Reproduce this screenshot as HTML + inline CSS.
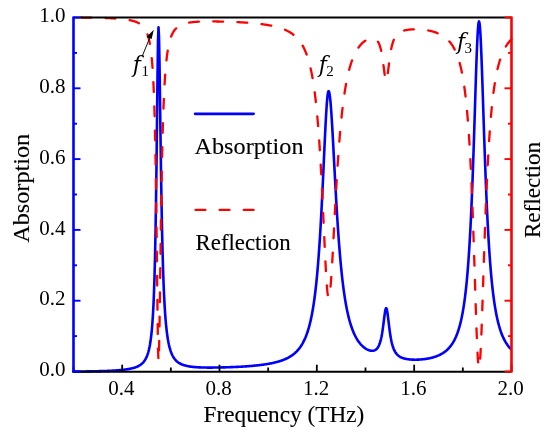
<!DOCTYPE html><html><head><meta charset="utf-8"><title>Absorption and Reflection</title><style>html,body{margin:0;padding:0;background:#fff;overflow:hidden}svg{display:block}</style></head><body><svg width="550" height="438" viewBox="0 0 550 438">
<rect width="550" height="438" fill="#fff"/>
<path d="M73.50,371.50 L74.00,371.50 L74.50,371.50 L75.00,371.50 L75.50,371.50 L76.00,371.50 L76.50,371.50 L77.00,371.50 L77.50,371.50 L78.00,371.50 L78.50,371.50 L79.00,371.50 L79.50,371.50 L80.00,371.50 L80.50,371.50 L81.00,371.50 L81.50,371.50 L82.00,371.49 L82.50,371.48 L83.00,371.47 L83.50,371.47 L84.00,371.46 L84.50,371.45 L85.00,371.44 L85.50,371.44 L86.00,371.43 L86.50,371.42 L87.00,371.41 L87.50,371.40 L88.00,371.40 L88.50,371.39 L89.00,371.38 L89.50,371.37 L90.00,371.36 L90.50,371.35 L91.00,371.34 L91.50,371.33 L92.00,371.32 L92.50,371.31 L93.00,371.30 L93.50,371.29 L94.00,371.28 L94.50,371.27 L95.00,371.26 L95.50,371.25 L96.00,371.24 L96.50,371.23 L97.00,371.22 L97.50,371.21 L98.00,371.19 L98.50,371.18 L99.00,371.17 L99.50,371.16 L100.00,371.14 L100.50,371.13 L101.00,371.12 L101.50,371.10 L102.00,371.09 L102.50,371.07 L103.00,371.06 L103.50,371.04 L104.00,371.03 L104.50,371.01 L105.00,371.00 L105.50,370.98 L106.00,370.96 L106.50,370.95 L107.00,370.93 L107.50,370.91 L108.00,370.89 L108.50,370.87 L109.00,370.85 L109.50,370.83 L110.00,370.81 L110.50,370.78 L111.00,370.76 L111.50,370.73 L112.00,370.70 L112.50,370.67 L113.00,370.64 L113.50,370.61 L114.00,370.57 L114.50,370.54 L115.00,370.51 L115.50,370.47 L116.00,370.44 L116.50,370.40 L117.00,370.36 L117.50,370.32 L118.00,370.28 L118.50,370.24 L119.00,370.20 L119.50,370.16 L120.00,370.11 L120.50,370.07 L121.00,370.02 L121.50,369.97 L122.00,369.92 L122.50,369.87 L123.00,369.81 L123.50,369.76 L124.00,369.70 L124.50,369.64 L125.00,369.58 L125.50,369.51 L126.00,369.44 L126.50,369.37 L127.00,369.30 L127.50,369.22 L128.00,369.14 L128.50,369.06 L129.00,368.97 L129.50,368.88 L130.00,368.79 L130.50,368.68 L131.00,368.57 L131.50,368.46 L132.00,368.34 L132.50,368.22 L133.00,368.08 L133.50,367.94 L134.00,367.80 L134.50,367.64 L135.00,367.48 L135.50,367.30 L136.00,367.12 L136.50,366.92 L137.00,366.71 L137.50,366.49 L138.00,366.25 L138.50,366.00 L139.00,365.73 L139.50,365.43 L140.00,365.12 L140.50,364.78 L141.00,364.41 L141.50,364.01 L142.00,363.57 L142.50,363.10 L143.00,362.58 L143.50,362.02 L144.00,361.39 L144.50,360.71 L145.00,359.95 L145.50,359.11 L146.00,358.17 L146.50,357.12 L147.00,355.94 L147.50,354.60 L148.00,353.09 L148.50,351.36 L149.00,349.38 L149.50,347.09 L150.00,344.43 L150.50,341.31 L151.00,337.64 L151.50,333.26 L152.00,328.01 L152.50,321.65 L153.00,313.86 L153.50,304.22 L154.00,292.19 L154.50,277.02 L155.00,257.78 L155.50,233.32 L156.00,202.50 L156.50,164.67 L157.00,121.00 L157.50,76.44 L158.00,41.14 L158.50,27.41 L159.00,36.98 L159.50,62.74 L160.00,97.85 L160.50,135.39 L161.00,170.75 L161.50,201.75 L162.00,227.90 L162.50,249.52 L163.00,267.25 L163.50,281.77 L164.00,293.69 L164.50,303.54 L165.00,311.72 L165.50,318.56 L166.00,324.32 L166.50,329.20 L167.00,333.37 L167.50,336.95 L168.00,340.05 L168.50,342.74 L169.00,345.09 L169.50,347.16 L170.00,348.98 L170.50,350.60 L171.00,352.03 L171.50,353.31 L172.00,354.47 L172.50,355.50 L173.00,356.43 L173.50,357.28 L174.00,358.05 L174.50,358.74 L175.00,359.38 L175.50,359.96 L176.00,360.49 L176.50,360.98 L177.00,361.44 L177.50,361.85 L178.00,362.23 L178.50,362.59 L179.00,362.92 L179.50,363.22 L180.00,363.51 L180.50,363.77 L181.00,364.01 L181.50,364.24 L182.00,364.46 L182.50,364.66 L183.00,364.84 L183.50,365.02 L184.00,365.18 L184.50,365.33 L185.00,365.48 L185.50,365.61 L186.00,365.74 L186.50,365.86 L187.00,365.97 L187.50,366.08 L188.00,366.18 L188.50,366.27 L189.00,366.36 L189.50,366.44 L190.00,366.52 L190.50,366.59 L191.00,366.66 L191.50,366.73 L192.00,366.79 L192.50,366.85 L193.00,366.90 L193.50,366.96 L194.00,367.00 L194.50,367.05 L195.00,367.09 L195.50,367.13 L196.00,367.17 L196.50,367.21 L197.00,367.24 L197.50,367.27 L198.00,367.30 L198.50,367.33 L199.00,367.36 L199.50,367.38 L200.00,367.40 L200.50,367.42 L201.00,367.44 L201.50,367.46 L202.00,367.48 L202.50,367.49 L203.00,367.51 L203.50,367.52 L204.00,367.53 L204.50,367.54 L205.00,367.55 L205.50,367.56 L206.00,367.56 L206.50,367.57 L207.00,367.58 L207.50,367.58 L208.00,367.58 L208.50,367.59 L209.00,367.59 L209.50,367.59 L210.00,367.59 L210.50,367.59 L211.00,367.59 L211.50,367.58 L212.00,367.58 L212.50,367.58 L213.00,367.57 L213.50,367.57 L214.00,367.56 L214.50,367.56 L215.00,367.55 L215.50,367.54 L216.00,367.53 L216.50,367.52 L217.00,367.51 L217.50,367.50 L218.00,367.49 L218.50,367.48 L219.00,367.47 L219.50,367.46 L220.00,367.45 L220.50,367.44 L221.00,367.43 L221.50,367.42 L222.00,367.41 L222.50,367.40 L223.00,367.39 L223.50,367.38 L224.00,367.37 L224.50,367.35 L225.00,367.34 L225.50,367.33 L226.00,367.31 L226.50,367.30 L227.00,367.29 L227.50,367.27 L228.00,367.26 L228.50,367.24 L229.00,367.22 L229.50,367.21 L230.00,367.19 L230.50,367.17 L231.00,367.15 L231.50,367.13 L232.00,367.11 L232.50,367.09 L233.00,367.07 L233.50,367.05 L234.00,367.03 L234.50,367.01 L235.00,366.99 L235.50,366.97 L236.00,366.94 L236.50,366.92 L237.00,366.89 L237.50,366.87 L238.00,366.85 L238.50,366.82 L239.00,366.79 L239.50,366.77 L240.00,366.74 L240.50,366.71 L241.00,366.68 L241.50,366.65 L242.00,366.62 L242.50,366.59 L243.00,366.56 L243.50,366.53 L244.00,366.50 L244.50,366.47 L245.00,366.43 L245.50,366.40 L246.00,366.37 L246.50,366.33 L247.00,366.29 L247.50,366.26 L248.00,366.22 L248.50,366.18 L249.00,366.14 L249.50,366.10 L250.00,366.06 L250.50,366.02 L251.00,365.98 L251.50,365.94 L252.00,365.90 L252.50,365.85 L253.00,365.81 L253.50,365.76 L254.00,365.71 L254.50,365.66 L255.00,365.62 L255.50,365.57 L256.00,365.51 L256.50,365.46 L257.00,365.41 L257.50,365.36 L258.00,365.30 L258.50,365.24 L259.00,365.19 L259.50,365.13 L260.00,365.07 L260.50,365.01 L261.00,364.95 L261.50,364.88 L262.00,364.82 L262.50,364.75 L263.00,364.68 L263.50,364.61 L264.00,364.54 L264.50,364.47 L265.00,364.39 L265.50,364.32 L266.00,364.24 L266.50,364.16 L267.00,364.08 L267.50,364.00 L268.00,363.91 L268.50,363.83 L269.00,363.74 L269.50,363.65 L270.00,363.55 L270.50,363.46 L271.00,363.36 L271.50,363.26 L272.00,363.16 L272.50,363.05 L273.00,362.94 L273.50,362.83 L274.00,362.72 L274.50,362.60 L275.00,362.48 L275.50,362.36 L276.00,362.23 L276.50,362.10 L277.00,361.97 L277.50,361.83 L278.00,361.69 L278.50,361.55 L279.00,361.40 L279.50,361.24 L280.00,361.09 L280.50,360.93 L281.00,360.76 L281.50,360.59 L282.00,360.41 L282.50,360.23 L283.00,360.04 L283.50,359.85 L284.00,359.65 L284.50,359.44 L285.00,359.23 L285.50,359.01 L286.00,358.78 L286.50,358.54 L287.00,358.30 L287.50,358.05 L288.00,357.79 L288.50,357.52 L289.00,357.25 L289.50,356.96 L290.00,356.66 L290.50,356.35 L291.00,356.03 L291.50,355.70 L292.00,355.35 L292.50,354.99 L293.00,354.62 L293.50,354.23 L294.00,353.83 L294.50,353.41 L295.00,352.98 L295.50,352.52 L296.00,352.05 L296.50,351.56 L297.00,351.04 L297.50,350.50 L298.00,349.94 L298.50,349.36 L299.00,348.74 L299.50,348.10 L300.00,347.43 L300.50,346.73 L301.00,345.99 L301.50,345.21 L302.00,344.40 L302.50,343.55 L303.00,342.65 L303.50,341.70 L304.00,340.71 L304.50,339.66 L305.00,338.55 L305.50,337.39 L306.00,336.15 L306.50,334.85 L307.00,333.47 L307.50,332.01 L308.00,330.46 L308.50,328.81 L309.00,327.07 L309.50,325.21 L310.00,323.24 L310.50,321.14 L311.00,318.90 L311.50,316.51 L312.00,313.95 L312.50,311.22 L313.00,308.31 L313.50,305.18 L314.00,301.83 L314.50,298.24 L315.00,294.39 L315.50,290.26 L316.00,285.82 L316.50,281.05 L317.00,275.92 L317.50,270.42 L318.00,264.51 L318.50,258.16 L319.00,251.35 L319.50,244.07 L320.00,236.29 L320.50,227.99 L321.00,219.19 L321.50,209.88 L322.00,200.09 L322.50,189.87 L323.00,179.28 L323.50,168.45 L324.00,157.49 L324.50,146.58 L325.00,135.94 L325.50,125.82 L326.00,116.48 L326.50,108.22 L327.00,101.32 L327.50,96.05 L328.00,92.62 L328.50,91.18 L328.60,91.13 L329.00,91.62 L329.50,93.62 L330.00,97.10 L330.50,101.94 L331.00,108.00 L331.50,115.10 L332.00,123.05 L332.50,131.65 L333.00,140.73 L333.50,150.11 L334.00,159.63 L334.50,169.16 L335.00,178.58 L335.50,187.81 L336.00,196.78 L336.50,205.43 L337.00,213.73 L337.50,221.65 L338.00,229.19 L338.50,236.33 L339.00,243.09 L339.50,249.47 L340.00,255.48 L340.50,261.13 L341.00,266.45 L341.50,271.44 L342.00,276.13 L342.50,280.53 L343.00,284.67 L343.50,288.55 L344.00,292.19 L344.50,295.61 L345.00,298.83 L345.50,301.85 L346.00,304.70 L346.50,307.37 L347.00,309.89 L347.50,312.26 L348.00,314.50 L348.50,316.60 L349.00,318.59 L349.50,320.47 L350.00,322.24 L350.50,323.92 L351.00,325.50 L351.50,327.00 L352.00,328.42 L352.50,329.77 L353.00,331.04 L353.50,332.25 L354.00,333.40 L354.50,334.49 L355.00,335.52 L355.50,336.50 L356.00,337.43 L356.50,338.32 L357.00,339.16 L357.50,339.96 L358.00,340.72 L358.50,341.45 L359.00,342.14 L359.50,342.79 L360.00,343.41 L360.50,344.01 L361.00,344.57 L361.50,345.10 L362.00,345.61 L362.50,346.09 L363.00,346.55 L363.50,346.98 L364.00,347.38 L364.50,347.77 L365.00,348.13 L365.50,348.46 L366.00,348.78 L366.50,349.08 L367.00,349.35 L367.50,349.60 L368.00,349.83 L368.50,350.03 L369.00,350.22 L369.50,350.38 L370.00,350.51 L370.50,350.62 L371.00,350.71 L371.50,350.76 L372.00,350.79 L372.50,350.78 L373.00,350.74 L373.50,350.66 L374.00,350.53 L374.50,350.36 L375.00,350.14 L375.50,349.86 L376.00,349.51 L376.50,349.09 L377.00,348.57 L377.50,347.96 L378.00,347.22 L378.50,346.35 L379.00,345.32 L379.50,344.10 L380.00,342.67 L380.50,340.97 L381.00,338.98 L381.50,336.65 L382.00,333.94 L382.50,330.84 L383.00,327.35 L383.50,323.53 L384.00,319.52 L384.50,315.59 L385.00,312.11 L385.50,309.51 L386.00,308.22 L386.20,308.13 L386.50,308.48 L387.00,310.24 L387.50,313.24 L388.00,317.04 L388.50,321.21 L389.00,325.39 L389.50,329.35 L390.00,332.96 L390.50,336.18 L391.00,339.00 L391.50,341.46 L392.00,343.60 L392.50,345.44 L393.00,347.04 L393.50,348.43 L394.00,349.64 L394.50,350.70 L395.00,351.63 L395.50,352.44 L396.00,353.16 L396.50,353.81 L397.00,354.38 L397.50,354.89 L398.00,355.34 L398.50,355.76 L399.00,356.13 L399.50,356.46 L400.00,356.77 L400.50,357.05 L401.00,357.30 L401.50,357.53 L402.00,357.74 L402.50,357.93 L403.00,358.11 L403.50,358.27 L404.00,358.42 L404.50,358.55 L405.00,358.68 L405.50,358.79 L406.00,358.90 L406.50,358.99 L407.00,359.08 L407.50,359.16 L408.00,359.23 L408.50,359.30 L409.00,359.36 L409.50,359.42 L410.00,359.46 L410.50,359.51 L411.00,359.55 L411.50,359.58 L412.00,359.61 L412.50,359.63 L413.00,359.65 L413.50,359.67 L414.00,359.68 L414.50,359.69 L415.00,359.69 L415.50,359.69 L416.00,359.69 L416.50,359.68 L417.00,359.67 L417.50,359.65 L418.00,359.64 L418.50,359.61 L419.00,359.59 L419.50,359.56 L420.00,359.53 L420.50,359.50 L421.00,359.46 L421.50,359.42 L422.00,359.37 L422.50,359.32 L423.00,359.27 L423.50,359.22 L424.00,359.16 L424.50,359.09 L425.00,359.03 L425.50,358.96 L426.00,358.89 L426.50,358.81 L427.00,358.73 L427.50,358.64 L428.00,358.55 L428.50,358.46 L429.00,358.36 L429.50,358.25 L430.00,358.15 L430.50,358.03 L431.00,357.92 L431.50,357.79 L432.00,357.67 L432.50,357.53 L433.00,357.40 L433.50,357.25 L434.00,357.10 L434.50,356.94 L435.00,356.78 L435.50,356.61 L436.00,356.43 L436.50,356.25 L437.00,356.06 L437.50,355.86 L438.00,355.65 L438.50,355.43 L439.00,355.21 L439.50,354.97 L440.00,354.73 L440.50,354.48 L441.00,354.21 L441.50,353.93 L442.00,353.65 L442.50,353.34 L443.00,353.03 L443.50,352.70 L444.00,352.36 L444.50,352.00 L445.00,351.63 L445.50,351.24 L446.00,350.84 L446.50,350.41 L447.00,349.96 L447.50,349.50 L448.00,349.01 L448.50,348.49 L449.00,347.96 L449.50,347.39 L450.00,346.80 L450.50,346.18 L451.00,345.53 L451.50,344.84 L452.00,344.11 L452.50,343.35 L453.00,342.55 L453.50,341.70 L454.00,340.81 L454.50,339.86 L455.00,338.86 L455.50,337.80 L456.00,336.68 L456.50,335.49 L457.00,334.23 L457.50,332.89 L458.00,331.47 L458.50,329.95 L459.00,328.34 L459.50,326.61 L460.00,324.77 L460.50,322.81 L461.00,320.70 L461.50,318.45 L462.00,316.03 L462.50,313.43 L463.00,310.63 L463.50,307.62 L464.00,304.38 L464.50,300.88 L465.00,297.09 L465.50,293.00 L466.00,288.57 L466.50,283.76 L467.00,278.54 L467.50,272.87 L468.00,266.71 L468.50,260.00 L469.00,252.71 L469.50,244.78 L470.00,236.15 L470.50,226.78 L471.00,216.61 L471.50,205.60 L472.00,193.73 L472.50,180.99 L473.00,167.38 L473.50,152.96 L474.00,137.84 L474.50,122.18 L475.00,106.24 L475.50,90.33 L476.00,74.87 L476.50,60.38 L477.00,47.40 L477.50,36.52 L478.00,28.28 L478.50,23.14 L479.00,21.39 L479.50,23.01 L480.00,27.75 L480.50,35.37 L481.00,45.48 L481.50,57.60 L482.00,71.23 L482.50,85.86 L483.00,101.04 L483.50,116.36 L484.00,131.52 L484.50,146.28 L485.00,160.44 L485.50,173.91 L486.00,186.60 L486.50,198.49 L487.00,209.58 L487.50,219.87 L488.00,229.41 L488.50,238.23 L489.00,246.37 L489.50,253.89 L490.00,260.82 L490.50,267.21 L491.00,273.11 L491.50,278.56 L492.00,283.59 L492.50,288.24 L493.00,292.55 L493.50,296.53 L494.00,300.23 L494.50,303.66 L495.00,306.85 L495.50,309.81 L496.00,312.58 L496.50,315.15 L497.00,317.56 L497.50,319.81 L498.00,321.91 L498.50,323.88 L499.00,325.73 L499.50,327.46 L500.00,329.09 L500.50,330.62 L501.00,332.07 L501.50,333.43 L502.00,334.71 L502.50,335.92 L503.00,337.07 L503.50,338.15 L504.00,339.18 L504.50,340.15 L505.00,341.07 L505.50,341.95 L506.00,342.78 L506.50,343.57 L507.00,344.32 L507.50,345.04 L508.00,345.72 L508.50,346.37 L509.00,346.99 L509.50,347.59 L510.00,348.15 L510.50,348.69 L511.00,349.21 L511.50,349.71" fill="none" stroke="#00f" stroke-width="2.6" stroke-linejoin="round"/>
<path d="M73.50,17.50 L74.00,17.50 L74.50,17.50 L75.00,17.50 L75.50,17.50 L76.00,17.50 L76.50,17.50 L77.00,17.50 L77.50,17.50 L78.00,17.50 L78.50,17.50 L79.00,17.50 L79.50,17.50 L80.00,17.50 L80.50,17.50 L81.00,17.50 L81.50,17.50 L82.00,17.51 L82.50,17.52 L83.00,17.53 L83.50,17.53 L84.00,17.54 L84.50,17.55 L85.00,17.56 L85.50,17.56 L86.00,17.57 L86.50,17.58 L87.00,17.59 L87.50,17.60 L88.00,17.60 L88.50,17.61 L89.00,17.62 L89.50,17.63 L90.00,17.64 L90.50,17.65 L91.00,17.66 L91.50,17.67 L92.00,17.68 L92.50,17.69 L93.00,17.70 L93.50,17.71 L94.00,17.72 L94.50,17.73 L95.00,17.74 L95.50,17.75 L96.00,17.76 L96.50,17.77 L97.00,17.78 L97.50,17.79 L98.00,17.81 L98.50,17.82 L99.00,17.83 L99.50,17.84 L100.00,17.86 L100.50,17.87 L101.00,17.88 L101.50,17.90 L102.00,17.91 L102.50,17.93 L103.00,17.94 L103.50,17.96 L104.00,17.97 L104.50,17.99 L105.00,18.00 L105.50,18.02 L106.00,18.04 L106.50,18.05 L107.00,18.07 L107.50,18.09 L108.00,18.11 L108.50,18.13 L109.00,18.15 L109.50,18.17 L110.00,18.19 L110.50,18.22 L111.00,18.24 L111.50,18.27 L112.00,18.30 L112.50,18.33 L113.00,18.36 L113.50,18.39 L114.00,18.43 L114.50,18.46 L115.00,18.49 L115.50,18.53 L116.00,18.56 L116.50,18.60 L117.00,18.64 L117.50,18.68 L118.00,18.72 L118.50,18.76 L119.00,18.80 L119.50,18.84 L120.00,18.89 L120.50,18.93 L121.00,18.98 L121.50,19.03 L122.00,19.08 L122.50,19.13 L123.00,19.19 L123.50,19.24 L124.00,19.30 L124.50,19.36 L125.00,19.42 L125.50,19.49 L126.00,19.56 L126.50,19.63 L127.00,19.70 L127.50,19.78 L128.00,19.86 L128.50,19.94 L129.00,20.03 L129.50,20.12 L130.00,20.21 L130.50,20.32 L131.00,20.43 L131.50,20.54 L132.00,20.66 L132.50,20.78 L133.00,20.92 L133.50,21.06 L134.00,21.20 L134.50,21.36 L135.00,21.52 L135.50,21.70 L136.00,21.88 L136.50,22.08 L137.00,22.29 L137.50,22.51 L138.00,22.75 L138.50,23.00 L139.00,23.27 L139.50,23.57 L140.00,23.88 L140.50,24.22 L141.00,24.59 L141.50,24.99 L142.00,25.43 L142.50,25.90 L143.00,26.42 L143.50,26.98 L144.00,27.61 L144.50,28.29 L145.00,29.05 L145.50,29.89 L146.00,30.83 L146.50,31.88 L147.00,33.06 L147.50,34.40 L148.00,35.91 L148.50,37.64 L149.00,39.62 L149.50,41.91 L150.00,44.57 L150.50,47.69 L151.00,51.36 L151.50,55.74 L152.00,60.99 L152.50,67.35 L153.00,75.14 L153.50,84.78 L154.00,96.81 L154.50,111.98 L155.00,131.22 L155.50,155.68 L156.00,186.50 L156.50,224.33 L157.00,268.00 L157.50,312.56 L158.00,347.86 L158.50,361.59 L159.00,352.02 L159.50,326.26 L160.00,291.15 L160.50,253.61 L161.00,218.25 L161.50,187.25 L162.00,161.10 L162.50,139.48 L163.00,121.75 L163.50,107.23 L164.00,95.31 L164.50,85.46 L165.00,77.28 L165.50,70.44 L166.00,64.68 L166.50,59.80 L167.00,55.63 L167.50,52.05 L168.00,48.95 L168.50,46.26 L169.00,43.91 L169.50,41.84 L170.00,40.02 L170.50,38.40 L171.00,36.97 L171.50,35.69 L172.00,34.53 L172.50,33.50 L173.00,32.57 L173.50,31.72 L174.00,30.95 L174.50,30.26 L175.00,29.62 L175.50,29.04 L176.00,28.51 L176.50,28.02 L177.00,27.56 L177.50,27.15 L178.00,26.77 L178.50,26.41 L179.00,26.08 L179.50,25.78 L180.00,25.49 L180.50,25.23 L181.00,24.99 L181.50,24.76 L182.00,24.54 L182.50,24.34 L183.00,24.16 L183.50,23.98 L184.00,23.82 L184.50,23.67 L185.00,23.52 L185.50,23.39 L186.00,23.26 L186.50,23.14 L187.00,23.03 L187.50,22.92 L188.00,22.82 L188.50,22.73 L189.00,22.64 L189.50,22.56 L190.00,22.48 L190.50,22.41 L191.00,22.34 L191.50,22.27 L192.00,22.21 L192.50,22.15 L193.00,22.10 L193.50,22.04 L194.00,22.00 L194.50,21.95 L195.00,21.91 L195.50,21.87 L196.00,21.83 L196.50,21.79 L197.00,21.76 L197.50,21.73 L198.00,21.70 L198.50,21.67 L199.00,21.64 L199.50,21.62 L200.00,21.60 L200.50,21.58 L201.00,21.56 L201.50,21.54 L202.00,21.52 L202.50,21.51 L203.00,21.49 L203.50,21.48 L204.00,21.47 L204.50,21.46 L205.00,21.45 L205.50,21.44 L206.00,21.44 L206.50,21.43 L207.00,21.42 L207.50,21.42 L208.00,21.42 L208.50,21.41 L209.00,21.41 L209.50,21.41 L210.00,21.41 L210.50,21.41 L211.00,21.41 L211.50,21.42 L212.00,21.42 L212.50,21.42 L213.00,21.43 L213.50,21.43 L214.00,21.44 L214.50,21.44 L215.00,21.45 L215.50,21.46 L216.00,21.47 L216.50,21.48 L217.00,21.49 L217.50,21.50 L218.00,21.51 L218.50,21.52 L219.00,21.53 L219.50,21.54 L220.00,21.55 L220.50,21.56 L221.00,21.57 L221.50,21.58 L222.00,21.59 L222.50,21.60 L223.00,21.61 L223.50,21.62 L224.00,21.63 L224.50,21.65 L225.00,21.66 L225.50,21.67 L226.00,21.69 L226.50,21.70 L227.00,21.71 L227.50,21.73 L228.00,21.74 L228.50,21.76 L229.00,21.78 L229.50,21.79 L230.00,21.81 L230.50,21.83 L231.00,21.85 L231.50,21.87 L232.00,21.89 L232.50,21.91 L233.00,21.93 L233.50,21.95 L234.00,21.97 L234.50,21.99 L235.00,22.01 L235.50,22.03 L236.00,22.06 L236.50,22.08 L237.00,22.11 L237.50,22.13 L238.00,22.15 L238.50,22.18 L239.00,22.21 L239.50,22.23 L240.00,22.26 L240.50,22.29 L241.00,22.32 L241.50,22.35 L242.00,22.38 L242.50,22.41 L243.00,22.44 L243.50,22.47 L244.00,22.50 L244.50,22.53 L245.00,22.57 L245.50,22.60 L246.00,22.63 L246.50,22.67 L247.00,22.71 L247.50,22.74 L248.00,22.78 L248.50,22.82 L249.00,22.86 L249.50,22.90 L250.00,22.94 L250.50,22.98 L251.00,23.02 L251.50,23.06 L252.00,23.10 L252.50,23.15 L253.00,23.19 L253.50,23.24 L254.00,23.29 L254.50,23.34 L255.00,23.38 L255.50,23.43 L256.00,23.49 L256.50,23.54 L257.00,23.59 L257.50,23.64 L258.00,23.70 L258.50,23.76 L259.00,23.81 L259.50,23.87 L260.00,23.93 L260.50,23.99 L261.00,24.05 L261.50,24.12 L262.00,24.18 L262.50,24.25 L263.00,24.32 L263.50,24.39 L264.00,24.46 L264.50,24.53 L265.00,24.61 L265.50,24.68 L266.00,24.76 L266.50,24.84 L267.00,24.92 L267.50,25.00 L268.00,25.09 L268.50,25.17 L269.00,25.26 L269.50,25.35 L270.00,25.45 L270.50,25.54 L271.00,25.64 L271.50,25.74 L272.00,25.84 L272.50,25.95 L273.00,26.06 L273.50,26.17 L274.00,26.28 L274.50,26.40 L275.00,26.52 L275.50,26.64 L276.00,26.77 L276.50,26.90 L277.00,27.03 L277.50,27.17 L278.00,27.31 L278.50,27.45 L279.00,27.60 L279.50,27.76 L280.00,27.91 L280.50,28.07 L281.00,28.24 L281.50,28.41 L282.00,28.59 L282.50,28.77 L283.00,28.96 L283.50,29.15 L284.00,29.35 L284.50,29.56 L285.00,29.77 L285.50,29.99 L286.00,30.22 L286.50,30.46 L287.00,30.70 L287.50,30.95 L288.00,31.21 L288.50,31.48 L289.00,31.75 L289.50,32.04 L290.00,32.34 L290.50,32.65 L291.00,32.97 L291.50,33.30 L292.00,33.65 L292.50,34.01 L293.00,34.38 L293.50,34.77 L294.00,35.17 L294.50,35.59 L295.00,36.02 L295.50,36.48 L296.00,36.95 L296.50,37.44 L297.00,37.96 L297.50,38.50 L298.00,39.06 L298.50,39.64 L299.00,40.26 L299.50,40.90 L300.00,41.57 L300.50,42.27 L301.00,43.01 L301.50,43.79 L302.00,44.60 L302.50,45.45 L303.00,46.35 L303.50,47.30 L304.00,48.29 L304.50,49.34 L305.00,50.45 L305.50,51.61 L306.00,52.85 L306.50,54.15 L307.00,55.53 L307.50,56.99 L308.00,58.54 L308.50,60.19 L309.00,61.93 L309.50,63.79 L310.00,65.76 L310.50,67.86 L311.00,70.10 L311.50,72.49 L312.00,75.05 L312.50,77.78 L313.00,80.69 L313.50,83.82 L314.00,87.17 L314.50,90.76 L315.00,94.61 L315.50,98.74 L316.00,103.18 L316.50,107.95 L317.00,113.08 L317.50,118.58 L318.00,124.49 L318.50,130.84 L319.00,137.65 L319.50,144.93 L320.00,152.71 L320.50,161.01 L321.00,169.81 L321.50,179.12 L322.00,188.91 L322.50,199.13 L323.00,209.72 L323.50,220.55 L324.00,231.51 L324.50,242.42 L325.00,253.06 L325.50,263.18 L326.00,272.52 L326.50,280.78 L327.00,287.68 L327.50,292.95 L328.00,296.38 L328.50,297.82 L328.60,297.87 L329.00,297.38 L329.50,295.38 L330.00,291.90 L330.50,287.06 L331.00,281.00 L331.50,273.90 L332.00,265.95 L332.50,257.35 L333.00,248.27 L333.50,238.89 L334.00,229.37 L334.50,219.84 L335.00,210.42 L335.50,201.19 L336.00,192.22 L336.50,183.57 L337.00,175.27 L337.50,167.35 L338.00,159.81 L338.50,152.67 L339.00,145.91 L339.50,139.53 L340.00,133.52 L340.50,127.87 L341.00,122.55 L341.50,117.56 L342.00,112.87 L342.50,108.47 L343.00,104.33 L343.50,100.45 L344.00,96.81 L344.50,93.39 L345.00,90.17 L345.50,87.15 L346.00,84.30 L346.50,81.63 L347.00,79.11 L347.50,76.74 L348.00,74.50 L348.50,72.40 L349.00,70.41 L349.50,68.53 L350.00,66.76 L350.50,65.08 L351.00,63.50 L351.50,62.00 L352.00,60.58 L352.50,59.23 L353.00,57.96 L353.50,56.75 L354.00,55.60 L354.50,54.51 L355.00,53.48 L355.50,52.50 L356.00,51.57 L356.50,50.68 L357.00,49.84 L357.50,49.04 L358.00,48.28 L358.50,47.55 L359.00,46.86 L359.50,46.21 L360.00,45.59 L360.50,44.99 L361.00,44.43 L361.50,43.90 L362.00,43.39 L362.50,42.91 L363.00,42.45 L363.50,42.02 L364.00,41.62 L364.50,41.23 L365.00,40.87 L365.50,40.54 L366.00,40.22 L366.50,39.92 L367.00,39.65 L367.50,39.40 L368.00,39.17 L368.50,38.97 L369.00,38.78 L369.50,38.62 L370.00,38.49 L370.50,38.38 L371.00,38.29 L371.50,38.24 L372.00,38.21 L372.50,38.22 L373.00,38.26 L373.50,38.34 L374.00,38.47 L374.50,38.64 L375.00,38.86 L375.50,39.14 L376.00,39.49 L376.50,39.91 L377.00,40.43 L377.50,41.04 L378.00,41.78 L378.50,42.65 L379.00,43.68 L379.50,44.90 L380.00,46.33 L380.50,48.03 L381.00,50.02 L381.50,52.35 L382.00,55.06 L382.50,58.16 L383.00,61.65 L383.50,65.47 L384.00,69.48 L384.50,73.41 L385.00,76.89 L385.50,79.49 L386.00,80.78 L386.20,80.87 L386.50,80.52 L387.00,78.76 L387.50,75.76 L388.00,71.96 L388.50,67.79 L389.00,63.61 L389.50,59.65 L390.00,56.04 L390.50,52.82 L391.00,50.00 L391.50,47.54 L392.00,45.40 L392.50,43.56 L393.00,41.96 L393.50,40.57 L394.00,39.36 L394.50,38.30 L395.00,37.37 L395.50,36.56 L396.00,35.84 L396.50,35.19 L397.00,34.62 L397.50,34.11 L398.00,33.66 L398.50,33.24 L399.00,32.87 L399.50,32.54 L400.00,32.23 L400.50,31.95 L401.00,31.70 L401.50,31.47 L402.00,31.26 L402.50,31.07 L403.00,30.89 L403.50,30.73 L404.00,30.58 L404.50,30.45 L405.00,30.32 L405.50,30.21 L406.00,30.10 L406.50,30.01 L407.00,29.92 L407.50,29.84 L408.00,29.77 L408.50,29.70 L409.00,29.64 L409.50,29.58 L410.00,29.54 L410.50,29.49 L411.00,29.45 L411.50,29.42 L412.00,29.39 L412.50,29.37 L413.00,29.35 L413.50,29.33 L414.00,29.32 L414.50,29.31 L415.00,29.31 L415.50,29.31 L416.00,29.31 L416.50,29.32 L417.00,29.33 L417.50,29.35 L418.00,29.36 L418.50,29.39 L419.00,29.41 L419.50,29.44 L420.00,29.47 L420.50,29.50 L421.00,29.54 L421.50,29.58 L422.00,29.63 L422.50,29.68 L423.00,29.73 L423.50,29.78 L424.00,29.84 L424.50,29.91 L425.00,29.97 L425.50,30.04 L426.00,30.11 L426.50,30.19 L427.00,30.27 L427.50,30.36 L428.00,30.45 L428.50,30.54 L429.00,30.64 L429.50,30.75 L430.00,30.85 L430.50,30.97 L431.00,31.08 L431.50,31.21 L432.00,31.33 L432.50,31.47 L433.00,31.60 L433.50,31.75 L434.00,31.90 L434.50,32.06 L435.00,32.22 L435.50,32.39 L436.00,32.57 L436.50,32.75 L437.00,32.94 L437.50,33.14 L438.00,33.35 L438.50,33.57 L439.00,33.79 L439.50,34.03 L440.00,34.27 L440.50,34.52 L441.00,34.79 L441.50,35.07 L442.00,35.35 L442.50,35.66 L443.00,35.97 L443.50,36.30 L444.00,36.64 L444.50,37.00 L445.00,37.37 L445.50,37.76 L446.00,38.16 L446.50,38.59 L447.00,39.04 L447.50,39.50 L448.00,39.99 L448.50,40.51 L449.00,41.04 L449.50,41.61 L450.00,42.20 L450.50,42.82 L451.00,43.47 L451.50,44.16 L452.00,44.89 L452.50,45.65 L453.00,46.45 L453.50,47.30 L454.00,48.19 L454.50,49.14 L455.00,50.14 L455.50,51.20 L456.00,52.32 L456.50,53.51 L457.00,54.77 L457.50,56.11 L458.00,57.53 L458.50,59.05 L459.00,60.66 L459.50,62.39 L460.00,64.23 L460.50,66.19 L461.00,68.30 L461.50,70.55 L462.00,72.97 L462.50,75.57 L463.00,78.37 L463.50,81.38 L464.00,84.62 L464.50,88.12 L465.00,91.91 L465.50,96.00 L466.00,100.43 L466.50,105.24 L467.00,110.46 L467.50,116.13 L468.00,122.29 L468.50,129.00 L469.00,136.29 L469.50,144.22 L470.00,152.85 L470.50,162.22 L471.00,172.39 L471.50,183.40 L472.00,195.27 L472.50,208.01 L473.00,221.62 L473.50,236.04 L474.00,251.16 L474.50,266.82 L475.00,282.76 L475.50,298.67 L476.00,314.13 L476.50,328.62 L477.00,341.60 L477.50,352.48 L478.00,360.72 L478.50,365.86 L479.00,367.61 L479.50,365.99 L480.00,361.25 L480.50,353.63 L481.00,343.52 L481.50,331.40 L482.00,317.77 L482.50,303.14 L483.00,287.96 L483.50,272.64 L484.00,257.48 L484.50,242.72 L485.00,228.56 L485.50,215.09 L486.00,202.40 L486.50,190.51 L487.00,179.42 L487.50,169.13 L488.00,159.59 L488.50,150.77 L489.00,142.63 L489.50,135.11 L490.00,128.18 L490.50,121.79 L491.00,115.89 L491.50,110.44 L492.00,105.41 L492.50,100.76 L493.00,96.45 L493.50,92.47 L494.00,88.77 L494.50,85.34 L495.00,82.15 L495.50,79.19 L496.00,76.42 L496.50,73.85 L497.00,71.44 L497.50,69.19 L498.00,67.09 L498.50,65.12 L499.00,63.27 L499.50,61.54 L500.00,59.91 L500.50,58.38 L501.00,56.93 L501.50,55.57 L502.00,54.29 L502.50,53.08 L503.00,51.93 L503.50,50.85 L504.00,49.82 L504.50,48.85 L505.00,47.93 L505.50,47.05 L506.00,46.22 L506.50,45.43 L507.00,44.68 L507.50,43.96 L508.00,43.28 L508.50,42.63 L509.00,42.01 L509.50,41.41 L510.00,40.85 L510.50,40.31 L511.00,39.79 L511.50,39.29" fill="none" stroke="#f00" stroke-width="2.3" stroke-linecap="round" stroke-dasharray="9.8 14.4" stroke-dashoffset="16.35"/>
<line x1="73.5" y1="17.5" x2="511.5" y2="17.5" stroke="#000" stroke-width="2"/>
<line x1="72.3" y1="371.65" x2="511.5" y2="371.65" stroke="#000" stroke-width="2"/>
<line x1="73.50" y1="371.5" x2="73.50" y2="367.5" stroke="#000" stroke-width="1.8"/>
<line x1="122.17" y1="371.5" x2="122.17" y2="364.7" stroke="#000" stroke-width="1.8"/>
<line x1="170.83" y1="371.5" x2="170.83" y2="367.5" stroke="#000" stroke-width="1.8"/>
<line x1="219.50" y1="371.5" x2="219.50" y2="364.7" stroke="#000" stroke-width="1.8"/>
<line x1="268.17" y1="371.5" x2="268.17" y2="367.5" stroke="#000" stroke-width="1.8"/>
<line x1="316.83" y1="371.5" x2="316.83" y2="364.7" stroke="#000" stroke-width="1.8"/>
<line x1="365.50" y1="371.5" x2="365.50" y2="367.5" stroke="#000" stroke-width="1.8"/>
<line x1="414.17" y1="371.5" x2="414.17" y2="364.7" stroke="#000" stroke-width="1.8"/>
<line x1="462.83" y1="371.5" x2="462.83" y2="367.5" stroke="#000" stroke-width="1.8"/>
<line x1="511.50" y1="371.5" x2="511.50" y2="364.7" stroke="#000" stroke-width="1.8"/>
<line x1="73.5" y1="16.5" x2="73.5" y2="372.5" stroke="#00f" stroke-width="2.6"/>
<line x1="73.5" y1="371.50" x2="80.5" y2="371.50" stroke="#00f" stroke-width="1.9"/>
<line x1="73.5" y1="336.10" x2="77.0" y2="336.10" stroke="#00f" stroke-width="1.9"/>
<line x1="73.5" y1="300.70" x2="80.5" y2="300.70" stroke="#00f" stroke-width="1.9"/>
<line x1="73.5" y1="265.30" x2="77.0" y2="265.30" stroke="#00f" stroke-width="1.9"/>
<line x1="73.5" y1="229.90" x2="80.5" y2="229.90" stroke="#00f" stroke-width="1.9"/>
<line x1="73.5" y1="194.50" x2="77.0" y2="194.50" stroke="#00f" stroke-width="1.9"/>
<line x1="73.5" y1="159.10" x2="80.5" y2="159.10" stroke="#00f" stroke-width="1.9"/>
<line x1="73.5" y1="123.70" x2="77.0" y2="123.70" stroke="#00f" stroke-width="1.9"/>
<line x1="73.5" y1="88.30" x2="80.5" y2="88.30" stroke="#00f" stroke-width="1.9"/>
<line x1="73.5" y1="52.90" x2="77.0" y2="52.90" stroke="#00f" stroke-width="1.9"/>
<line x1="73.5" y1="17.50" x2="80.5" y2="17.50" stroke="#00f" stroke-width="1.9"/>
<line x1="511.5" y1="16.5" x2="511.5" y2="372.5" stroke="#f00" stroke-width="2.6"/>
<line x1="511.5" y1="371.50" x2="504.5" y2="371.50" stroke="#f00" stroke-width="1.9"/>
<line x1="511.5" y1="336.10" x2="508.0" y2="336.10" stroke="#f00" stroke-width="1.9"/>
<line x1="511.5" y1="300.70" x2="504.5" y2="300.70" stroke="#f00" stroke-width="1.9"/>
<line x1="511.5" y1="265.30" x2="508.0" y2="265.30" stroke="#f00" stroke-width="1.9"/>
<line x1="511.5" y1="229.90" x2="504.5" y2="229.90" stroke="#f00" stroke-width="1.9"/>
<line x1="511.5" y1="194.50" x2="508.0" y2="194.50" stroke="#f00" stroke-width="1.9"/>
<line x1="511.5" y1="159.10" x2="504.5" y2="159.10" stroke="#f00" stroke-width="1.9"/>
<line x1="511.5" y1="123.70" x2="508.0" y2="123.70" stroke="#f00" stroke-width="1.9"/>
<line x1="511.5" y1="88.30" x2="504.5" y2="88.30" stroke="#f00" stroke-width="1.9"/>
<line x1="511.5" y1="52.90" x2="508.0" y2="52.90" stroke="#f00" stroke-width="1.9"/>
<line x1="511.5" y1="17.50" x2="504.5" y2="17.50" stroke="#f00" stroke-width="1.9"/>
<text x="65.6" y="376.10" text-anchor="end" style="font-family:'Liberation Serif',serif;font-size:21px;fill:#000">0.0</text>
<text x="65.6" y="305.30" text-anchor="end" style="font-family:'Liberation Serif',serif;font-size:21px;fill:#000">0.2</text>
<text x="65.6" y="234.50" text-anchor="end" style="font-family:'Liberation Serif',serif;font-size:21px;fill:#000">0.4</text>
<text x="65.6" y="163.70" text-anchor="end" style="font-family:'Liberation Serif',serif;font-size:21px;fill:#000">0.6</text>
<text x="65.6" y="92.90" text-anchor="end" style="font-family:'Liberation Serif',serif;font-size:21px;fill:#000">0.8</text>
<text x="65.6" y="22.10" text-anchor="end" style="font-family:'Liberation Serif',serif;font-size:21px;fill:#000">1.0</text>
<text x="121.37" y="394.6" text-anchor="middle" style="font-family:'Liberation Serif',serif;font-size:21px;fill:#000">0.4</text>
<text x="218.70" y="394.6" text-anchor="middle" style="font-family:'Liberation Serif',serif;font-size:21px;fill:#000">0.8</text>
<text x="316.03" y="394.6" text-anchor="middle" style="font-family:'Liberation Serif',serif;font-size:21px;fill:#000">1.2</text>
<text x="413.37" y="394.6" text-anchor="middle" style="font-family:'Liberation Serif',serif;font-size:21px;fill:#000">1.6</text>
<text x="510.70" y="394.6" text-anchor="middle" style="font-family:'Liberation Serif',serif;font-size:21px;fill:#000">2.0</text>
<text x="203.5" y="422" textLength="160.8" lengthAdjust="spacingAndGlyphs" style="font-family:'Liberation Serif',serif;font-size:23px;fill:#000;stroke:#000;stroke-width:0.12">Frequency (THz)</text>
<text transform="translate(29,242.8) rotate(-90)" x="0" y="0" textLength="109" lengthAdjust="spacingAndGlyphs" style="font-family:'Liberation Serif',serif;font-size:23px;fill:#000;stroke:#000;stroke-width:0.12">Absorption</text>
<text transform="translate(539.8,238) rotate(-90)" x="0" y="0" textLength="96" lengthAdjust="spacingAndGlyphs" style="font-family:'Liberation Serif',serif;font-size:23px;fill:#000;stroke:#000;stroke-width:0.12">Reflection</text>
<line x1="195.1" y1="113.8" x2="253.6" y2="113.8" stroke="#00f" stroke-width="2.7" stroke-linecap="round"/>
<text x="194.5" y="153.5" textLength="109" lengthAdjust="spacingAndGlyphs" style="font-family:'Liberation Serif',serif;font-size:23px;fill:#000;stroke:#000;stroke-width:0.12">Absorption</text>
<line x1="195.6" y1="209.9" x2="254" y2="209.9" stroke="#f00" stroke-width="2.3" stroke-linecap="round" stroke-dasharray="9.8 14.3"/>
<text x="195.6" y="249.5" textLength="95" lengthAdjust="spacingAndGlyphs" style="font-family:'Liberation Serif',serif;font-size:23px;fill:#000;stroke:#000;stroke-width:0.12">Reflection</text>
<text x="132.8" y="72.0" style="font-family:'DejaVu Serif',serif;font-size:22px;font-style:italic;fill:#000">f</text><text x="141.4" y="76.4" style="font-family:'Liberation Serif',serif;font-size:15px;fill:#000">1</text>
<text x="318.8" y="71.6" style="font-family:'DejaVu Serif',serif;font-size:22px;font-style:italic;fill:#000">f</text><text x="326.2" y="75.6" style="font-family:'Liberation Serif',serif;font-size:15px;fill:#000">2</text>
<text x="457.0" y="49.4" style="font-family:'DejaVu Serif',serif;font-size:22px;font-style:italic;fill:#000">f</text><text x="464.6" y="53.4" style="font-family:'Liberation Serif',serif;font-size:15px;fill:#000">3</text>
<line x1="142.1" y1="56.5" x2="150.5" y2="36" stroke="#111" stroke-width="1.0"/>
<polygon points="153.8,29.8 146.4,37.0 151.6,39.0" fill="#000"/>
</svg></body></html>
